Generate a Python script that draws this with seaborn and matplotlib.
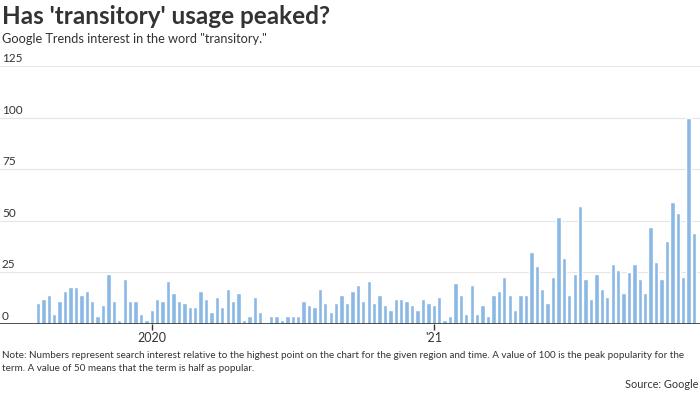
import pandas as pd
import matplotlib
matplotlib.use("Agg")
import matplotlib.pyplot as plt
import matplotlib.transforms as mtransforms
import seaborn as sns

# weekly Google Trends interest in "transitory"
interest = [10, 12, 14, 5, 11, 16, 18, 18, 14, 16, 11, 4, 9, 24, 11, 2, 22, 11, 11, 5, 2,
            7, 12, 11, 21, 15, 11, 10, 8, 8, 16, 12, 6, 13, 8, 17, 11, 15, 2, 4, 13,
            6, 0, 4, 4, 2, 4, 4, 4, 11, 9, 8, 17, 10, 6, 10, 14, 10, 16, 19, 11,
            21, 10, 14, 9, 7, 12, 12, 11, 9, 7, 12, 10, 9, 13, 2, 4, 20, 14, 5, 19,
            5, 9, 4, 14, 16, 23, 14, 7, 14, 14, 35, 28, 17, 10, 23, 52, 32, 14, 24, 57,
            22, 12, 24, 17, 13, 29, 26, 15, 25, 29, 22, 15, 47, 30, 22, 40, 59, 54, 23, 100, 44]
weeks = pd.date_range("2019-08-11", periods=len(interest), freq="7D")
y_ticks = [0, 25, 50, 75, 100, 125]
year_labels = {2020: "2020", 2021: "'21"}

df = pd.DataFrame({"week": weeks.strftime("%Y-%m-%d"), "interest": interest})

sns.set_style("white")
plt.rcParams["font.family"] = ["Lato", "DejaVu Sans"]
txt = "#333333"

fig = plt.figure(figsize=(7, 3.94), dpi=100)
ax = fig.add_axes([0, 70 / 394, 1, 258 / 394])

sns.barplot(data=df, x="week", y="interest", color="#8bb9e5", width=0.8,
            saturation=1, ax=ax)

n = len(interest)
ax.set_xlim(-7.0, n + 0.1)
ax.set_ylim(0, 125)

# year ticks on the first week of each new year
pos, labs = [], []
for i in range(1, n):
    if weeks[i].year != weeks[i - 1].year:
        pos.append(i)
        labs.append(year_labels.get(weeks[i].year, str(weeks[i].year)))
ax.set_xticks(pos)
ax.set_xticklabels(labs, fontsize=9, color=txt)
ax.tick_params(axis="x", length=4, width=1, color=txt, pad=2, bottom=True)

ax.set_yticks(y_ticks)
ax.tick_params(axis="y", length=0, labelleft=False)
ax.yaxis.grid(True, color="#e6e6e6", lw=0.8)
ax.set_axisbelow(True)
ax.set_xlabel("")
ax.set_ylabel("")
for s in ax.spines.values():
    s.set_visible(False)
ax.axhline(0, color=txt, lw=1.2, zorder=5)

trans = mtransforms.blended_transform_factory(ax.transAxes, ax.transData)
for v in y_ticks:
    ax.annotate(str(v), xy=(2 / 700, v), xycoords=trans, xytext=(0, 1.5),
                textcoords="offset points", ha="left", va="bottom",
                fontsize=8.5, color=txt)

fig.text(2 / 700, 1 - 17 / 394, "Has 'transitory' usage peaked?", fontsize=17.5,
         fontweight="bold", color=txt, va="center", ha="left")
fig.text(2 / 700, 1 - 39 / 394, 'Google Trends interest in the word "transitory."',
         fontsize=9.2, color=txt, va="center", ha="left")

note = ("Note: Numbers represent search interest relative to the highest point on the chart "
        "for the given region and time. A value of 100 is the peak popularity for the\n"
        "term. A value of 50 means that the term is half as popular.")
fig.text(2 / 700, 1 - 362 / 394, note, fontsize=7.15, color=txt, va="center", ha="left",
         linespacing=1.7)
fig.text(698 / 700, 1 - 384 / 394, "Source: Google", fontsize=7.8, color=txt,
         va="center", ha="right")

fig.savefig("out.png", dpi=100)
